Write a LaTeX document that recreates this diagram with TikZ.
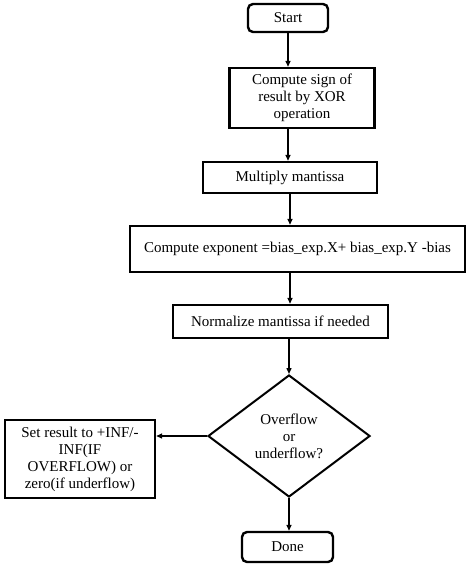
\documentclass[tikz,border=0pt]{standalone}
\usepackage{fontspec}
\setmainfont{Liberation Serif}
\usepackage{tikz}
\usetikzlibrary{shapes, shapes.geometric, arrows.meta, positioning, calc}

\begin{document}
\begin{tikzpicture}[x=1pt, y=1pt, font=\fontsize{15}{17}\selectfont,
    box/.style={draw, line width=2.4pt, align=center, inner sep=0pt},
    term/.style={box, rounded corners=5pt},
    decide/.style={draw, diamond, line width=2pt, align=center, inner sep=0pt, minimum width=162pt, minimum height=122pt},
    arr/.style={line width=1.4pt, -{Triangle[length=6pt, width=5pt]}}]
  \useasboundingbox (0,0) rectangle (474,-565);
  \node[term, minimum width=80pt, minimum height=28pt] (start) at (288,-18) {Start};
  \node[box, minimum width=145pt, minimum height=60pt] (sign) at (302,-98) {Compute sign of\\result by XOR\\operation};
  \node[box, minimum width=174pt, minimum height=31pt] (mult) at (290,-177.5) {Multiply mantissa};
  \node[box, minimum width=335pt, minimum height=46pt] (expo) at (297.5,-249) {Compute exponent =bias\_exp.X+ bias\_exp.Y -bias};
  \node[box, minimum width=215pt, minimum height=33pt] (norm) at (280.5,-321.5) {Normalize mantissa if needed};
  \node[decide] (check) at (289,-436) {Overflow\\or\\underflow?};
  \node[box, minimum width=150pt, minimum height=78pt] (setres) at (80,-459) {Set result to +INF/-\\INF(IF\\OVERFLOW) or\\zero(if underflow)};
  \node[term, minimum width=91pt, minimum height=30pt] (done) at (287.5,-547) {Done};

  \draw[arr] (start.south) -- (start.south |- sign.north);
  \draw[arr] (start.south |- sign.south) -- (start.south |- mult.north);
  \draw[arr] (mult.south) -- (mult.south |- expo.north);
  \draw[arr] (mult.south |- expo.south) -- (mult.south |- norm.north);
  \draw[arr] (check.north |- norm.south) -- (check.north);
  \draw[arr] (check.south) -- (check.south |- done.north);
  \draw[arr] (check.west) -- (setres.east |- check.west);
\end{tikzpicture}
\end{document}
